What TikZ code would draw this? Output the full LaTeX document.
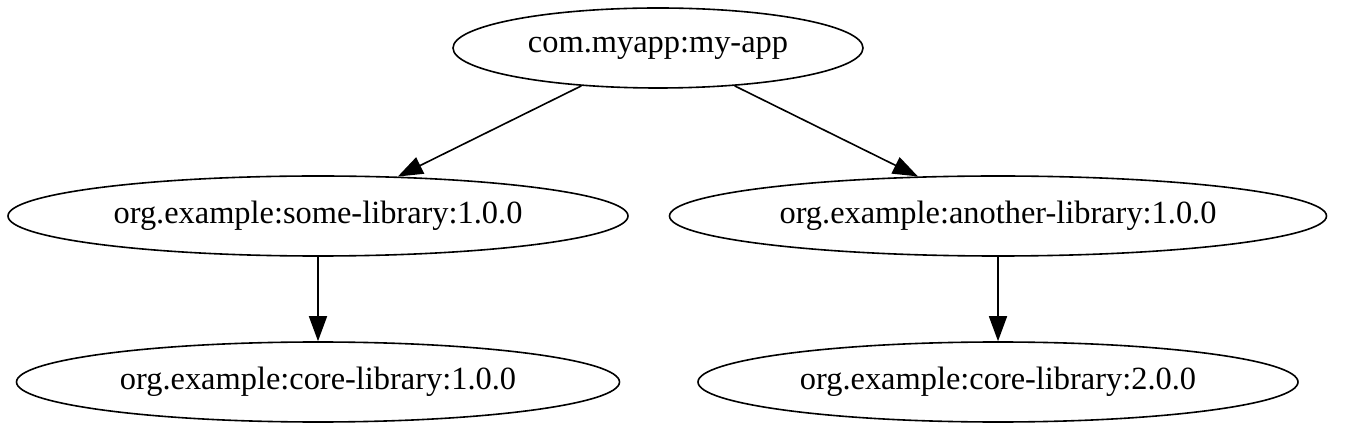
\documentclass[tikz,border=0pt]{standalone}
\usepackage{fontspec}
\setmainfont{Liberation Serif}
\usepackage{tikz}
\usetikzlibrary{shapes.geometric, arrows.meta}

\begin{document}
\begin{tikzpicture}[x=0.5pt, y=-0.5pt, >={Triangle[length=12.5pt, width=9pt]},
  every node/.style={font=\fontsize{16.2}{19}\selectfont},
  dep/.style={ellipse, draw, thick, inner sep=0pt, minimum height=40pt},
  link/.style={->, thick}]

  \useasboundingbox (0,0) rectangle (1358,432);

  \node[dep, minimum width=205pt] (app) at (658,48) {com.myapp:my-app};

  \node[dep, minimum width=310pt] (some) at (318,216) {org.example:some-library:1.0.0};
  \node[dep, minimum width=328.5pt] (another) at (998,216) {org.example:another-library:1.0.0};

  \node[dep, minimum width=301.5pt] (core1) at (318,382) {org.example:core-library:1.0.0};
  \node[dep, minimum width=300pt] (core2) at (998,382) {org.example:core-library:2.0.0};

  \draw[link] (app) -- (some);
  \draw[link] (app) -- (another);
  \draw[link] (some) -- (core1);
  \draw[link] (another) -- (core2);

\end{tikzpicture}
\end{document}
